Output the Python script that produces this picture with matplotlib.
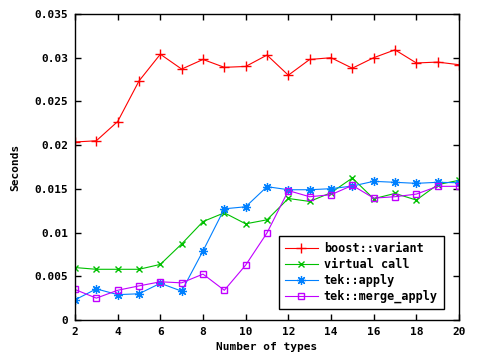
import matplotlib
matplotlib.use("Agg")
import matplotlib.pyplot as plt

x = list(range(2, 21))
boost_variant = [0.02036, 0.0205, 0.0227, 0.02734, 0.0304, 0.0287, 0.0298, 0.0289, 0.0290,
                 0.0303, 0.0280, 0.0298, 0.0300, 0.0288, 0.0300, 0.0309, 0.0294, 0.0295, 0.0292]
virtual_call = [0.0060, 0.0058, 0.0058, 0.0058, 0.00636, 0.0087, 0.01126, 0.01226, 0.0110,
                0.01146, 0.0139, 0.01356, 0.01456, 0.01624, 0.01387, 0.01448, 0.01372, 0.01548, 0.01598]
tek_apply = [0.0023, 0.00356, 0.0029, 0.0030, 0.0042, 0.0033, 0.0079, 0.01272, 0.01295,
             0.01525, 0.0149, 0.0149, 0.01502, 0.01532, 0.01586, 0.01575, 0.01563, 0.01575, 0.0157]
tek_merge_apply = [0.00349, 0.0025, 0.0034, 0.0039, 0.00437, 0.00425, 0.00525, 0.0034, 0.00628,
                   0.00996, 0.0148, 0.0141, 0.01433, 0.0154, 0.01394, 0.0141, 0.0144, 0.01529, 0.01529]

xticks = [2, 4, 6, 8, 10, 12, 14, 16, 18, 20]
yticks = [0, 0.005, 0.01, 0.015, 0.02, 0.025, 0.03, 0.035]
yticklabels = ["0", "0.005", "0.01", "0.015", "0.02", "0.025", "0.03", "0.035"]

plt.rcParams['font.family'] = ['DejaVu Sans Mono']
plt.rcParams['font.weight'] = 'bold'
plt.rcParams['font.size'] = 8

fig = plt.figure(figsize=(4.8, 3.6), dpi=100)
ax = fig.add_axes([75/480, 40/360, 384/480, 306/360])

lw = 0.8
ax.plot(x, boost_variant, color='#ff0000', lw=lw, marker='+', ms=7, mew=1.0, label='boost::variant')
ax.plot(x, virtual_call, color='#00c000', lw=lw, marker='x', ms=5, mew=1.0, label='virtual call')
ax.plot(x, tek_apply, color='#0080ff', lw=lw, marker=(8, 2, 0), ms=6.5, mew=0.9, label='tek::apply')
ax.plot(x, tek_merge_apply, color='#c000ff', lw=lw, marker='s', ms=5, mew=1.0, mfc='none', label='tek::merge_apply')

ax.set_xlim(2, 20)
ax.set_ylim(0, 0.035)
ax.set_xticks(xticks)
ax.set_xticklabels([str(t) for t in xticks])
ax.set_yticks(yticks)
ax.set_yticklabels(yticklabels)
ax.tick_params(direction='in', top=True, right=True, length=4, width=1, pad=5)
for s in ax.spines.values():
    s.set_linewidth(1.0)

ax.set_xlabel('Number of types', fontweight='bold', labelpad=4)
ax.set_ylabel('Seconds', fontweight='bold', labelpad=10)

leg = ax.legend(loc='lower right', bbox_to_anchor=(0.96, 0.035), fancybox=False, framealpha=1,
                edgecolor='black', borderpad=0.5, labelspacing=0.25, handlelength=2.8,
                handletextpad=0.5, fontsize=8.5, borderaxespad=0)
leg.get_frame().set_linewidth(1.0)

fig.savefig('out.png', dpi=100)
